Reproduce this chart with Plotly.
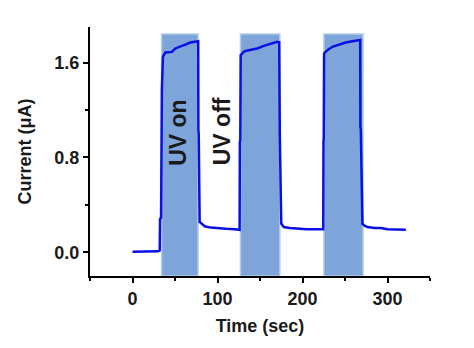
import plotly.graph_objects as go

# Photocurrent response under three UV on/off cycles
time_s = [
    0, 10, 20, 30, 32, 32.4, 33.6, 34.0, 34.6, 35.8, 38.6, 42, 46.4, 50.4, 56.2, 62.1, 68.0, 73.9, 77.3,
    77.5, 77.9, 79, 81, 85, 92, 100, 110, 120, 126.0,
    126.3, 126.8, 127.3, 130.9, 134, 138.8, 146.7, 154.5, 162.4, 170.3, 172.6,
    172.8, 173.3, 175, 178, 185, 195, 205, 215, 224.4,
    224.7, 225.0, 225.4, 229.2, 235.1, 243.0, 250.8, 258.7, 266.5, 267.9,
    268.1, 268.6, 270.5, 273, 276.4, 285, 292, 300, 310, 321.6,
]
current_uA = [
    0.005, 0.005, 0.006, 0.008, 0.015, 0.28, 0.29, 1.30, 1.38, 1.648, 1.685, 1.688, 1.69, 1.719, 1.733, 1.752, 1.769, 1.78, 1.78,
    1.03, 1.00, 0.256, 0.242, 0.219, 0.208, 0.202, 0.198, 0.195, 0.19,
    0.93, 0.95, 1.662, 1.69, 1.70, 1.705, 1.719, 1.741, 1.761, 1.775, 1.772,
    1.02, 0.99, 0.242, 0.213, 0.205, 0.198, 0.194, 0.194, 0.194,
    0.94, 0.96, 1.677, 1.705, 1.733, 1.752, 1.769, 1.78, 1.789, 1.79,
    1.06, 1.04, 0.242, 0.225, 0.213, 0.205, 0.205, 0.194, 0.192, 0.19,
]

# UV illumination windows (seconds)
uv_start = [34.2, 127.0, 225.2]
uv_end = [77.1, 173.3, 271.2]
uv_top = 1.84

label_text = ["UV on", "UV off"]
label_x = [52.7, 105.2]
label_y = [1.01, 1.02]

FONT = "Liberation Sans, Arial, sans-serif"

fig = go.Figure()

for x0, x1 in zip(uv_start, uv_end):
    fig.add_shape(
        type="rect", xref="x", yref="y",
        x0=x0, x1=x1, y0=-0.2, y1=uv_top,
        fillcolor="#7DA5DA", line=dict(color="#B2CBEA", width=1.5),
        layer="below",
    )

fig.add_trace(go.Scatter(
    x=time_s, y=current_uA, mode="lines",
    line=dict(color="#0A0FE6", width=2.5),
    showlegend=False, hoverinfo="skip",
))

for t, lx, ly in zip(label_text, label_x, label_y):
    fig.add_annotation(
        x=lx, y=ly, xref="x", yref="y", text=f"<b>{t}</b>",
        textangle=-90, showarrow=False,
        font=dict(family=FONT, size=23, color="#1a1a1a"),
    )

axis_common = dict(
    showline=True, linecolor="black", linewidth=2,
    ticks="outside", ticklen=5, tickwidth=2, tickcolor="black",
    showgrid=False, zeroline=False,
    tickfont=dict(family=FONT, size=18, color="#1a1a1a", weight="bold"),
)

fig.update_xaxes(
    range=[-50, 350], tickvals=[0, 100, 200, 300],
    minor=dict(dtick=50, tick0=0, ticks="outside", ticklen=3, tickwidth=2, tickcolor="black"),
    title=dict(text="<b>Time (sec)</b>", font=dict(family=FONT, size=18, color="#1a1a1a"), standoff=12),
    **axis_common,
)
fig.update_yaxes(
    range=[-0.2, 1.9], tickvals=[0.0, 0.8, 1.6], tickformat=".1f",
    minor=dict(dtick=0.4, tick0=0, ticks="outside", ticklen=3, tickwidth=2, tickcolor="black"),
    title=dict(text="<b>Current (μA)</b>", font=dict(family=FONT, size=18, color="#1a1a1a"), standoff=18),
    **axis_common,
)

fig.update_layout(
    width=474, height=348,
    margin=dict(l=90, r=44, t=27, b=72),
    paper_bgcolor="white", plot_bgcolor="white",
)

fig.write_html("out.html")
